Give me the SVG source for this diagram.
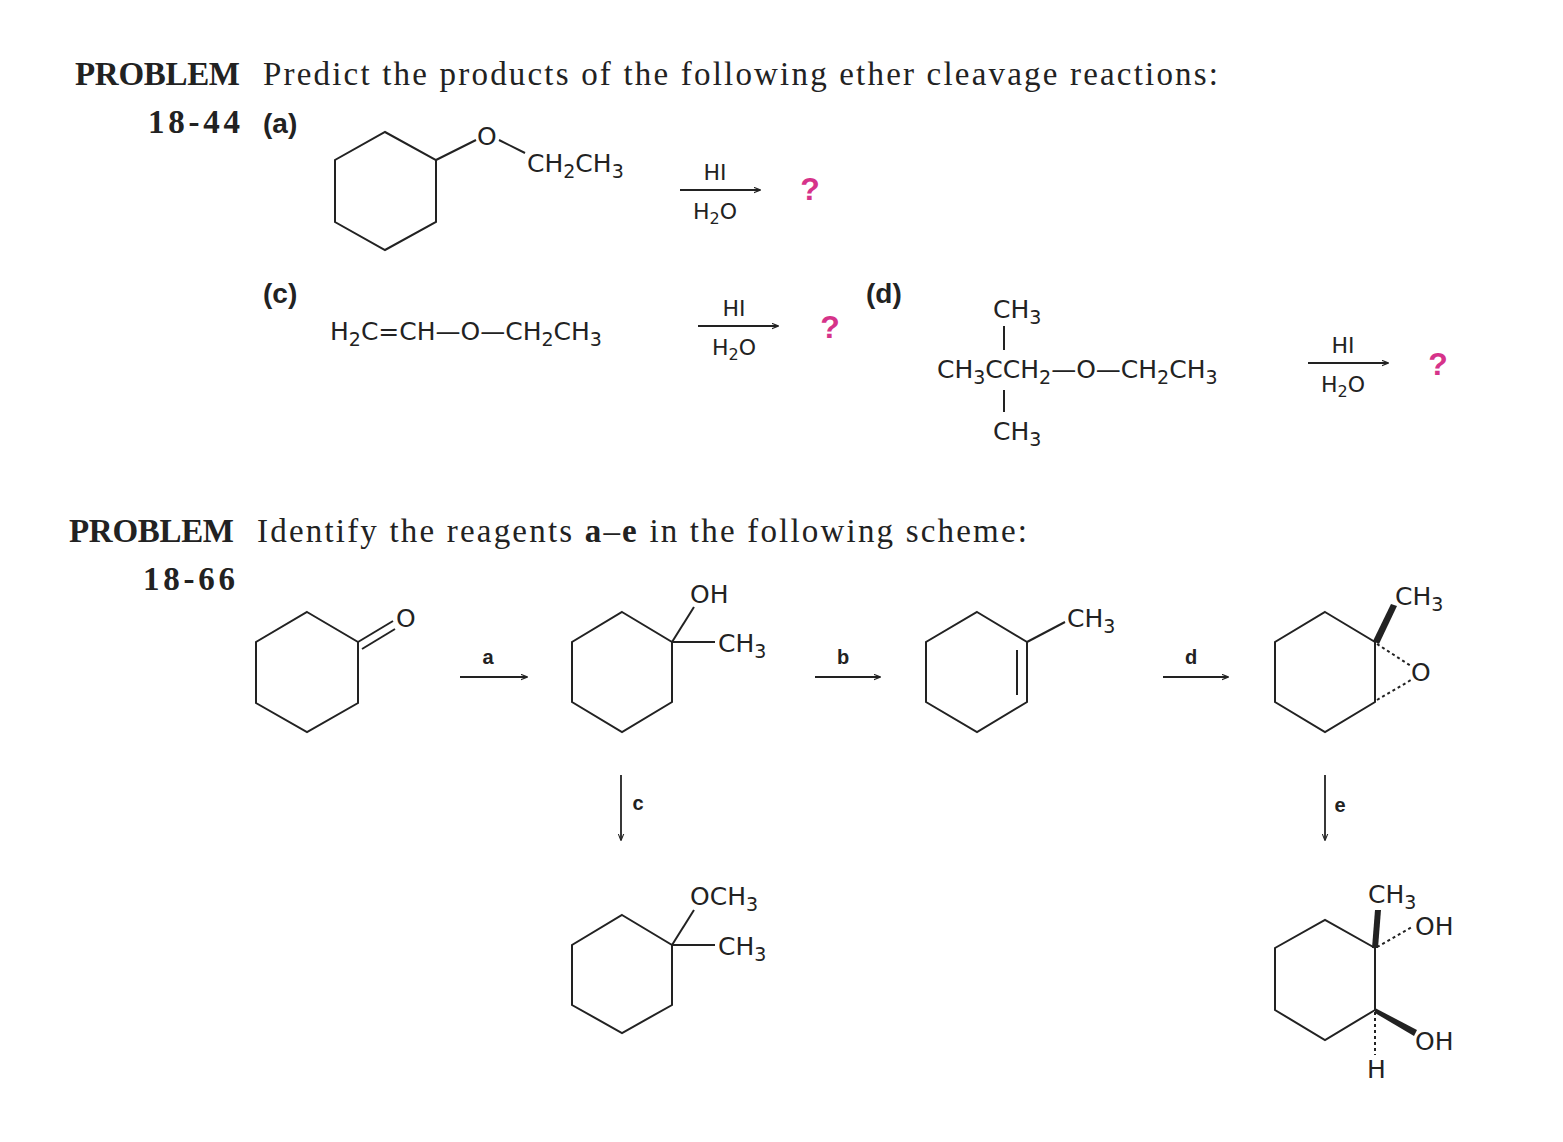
<svg xmlns="http://www.w3.org/2000/svg" width="1563" height="1142" viewBox="0 0 1563 1142">
<defs>
<marker id="ah" viewBox="0 0 10 10" refX="9" refY="5" markerWidth="7" markerHeight="7" orient="auto" markerUnits="userSpaceOnUse"><path d="M0,1 L10,5 L0,9" fill="none" stroke="#222" stroke-width="1.5"/></marker>
<style>
.hd{font-family:"Liberation Serif",serif;font-size:33px;fill:#222}
.b{font-weight:bold}
.lab{font-family:"Liberation Sans",sans-serif;font-size:28px;font-weight:bold;fill:#222}
.ch{font-family:"DejaVu Sans",sans-serif;font-size:25px;fill:#222}
.sm{font-family:"DejaVu Sans",sans-serif;font-size:22px;fill:#222}
.rl{font-family:"Liberation Sans",sans-serif;font-size:20px;font-weight:bold;fill:#222}
.q{font-family:"Liberation Sans",sans-serif;font-size:32px;font-weight:bold;fill:#d6338a}
.bd{stroke:#222;stroke-width:2;fill:none}
.ar{stroke:#222;stroke-width:1.8;fill:none;marker-end:url(#ah)}
.dash{stroke:#222;stroke-width:2;fill:none;stroke-dasharray:3,3}
</style>
</defs>
<rect width="1563" height="1142" fill="#fff"/>

<g id="header1">
<text x="75" y="85" class="hd b" textLength="165">PROBLEM</text>
<text x="263" y="85" class="hd" textLength="955">Predict the products of the following ether cleavage reactions:</text>
<text x="148" y="133" class="hd b" textLength="92">18-44</text>
<text x="263" y="133" class="lab">(a)</text>
</g>

<g id="mol-a">
<polygon class="bd" points="385,132 436,160 436,222 385,250 335,222 335,160"/>
<line class="bd" x1="436" y1="160" x2="476" y2="140"/>
<text x="477" y="145" class="ch">O</text>
<line class="bd" x1="499" y1="140" x2="525" y2="153"/>
<text x="527" y="172" class="ch">CH<tspan dy="6" font-size="19">2</tspan><tspan dy="-6">CH</tspan><tspan dy="6" font-size="19">3</tspan></text>
</g>

<g id="lab-c"><text x="263" y="303" class="lab">(c)</text></g>
<g id="mol-c"><text x="330" y="340" class="ch">H<tspan dy="6" font-size="19">2</tspan><tspan dy="-6">C=CH—O—CH</tspan><tspan dy="6" font-size="19">2</tspan><tspan dy="-6">CH</tspan><tspan dy="6" font-size="19">3</tspan></text></g>

<g id="lab-d"><text x="866" y="303" class="lab">(d)</text></g>
<g id="mol-d">
<text x="993" y="318" class="ch">CH<tspan dy="6" font-size="19">3</tspan></text>
<line class="bd" x1="1004" y1="326" x2="1004" y2="350"/>
<text x="937" y="378" class="ch">CH<tspan dy="6" font-size="19">3</tspan><tspan dy="-6">CCH</tspan><tspan dy="6" font-size="19">2</tspan><tspan dy="-6">—O—CH</tspan><tspan dy="6" font-size="19">2</tspan><tspan dy="-6">CH</tspan><tspan dy="6" font-size="19">3</tspan></text>
<line class="bd" x1="1004" y1="390" x2="1004" y2="412"/>
<text x="993" y="440" class="ch">CH<tspan dy="6" font-size="19">3</tspan></text>
</g>

<g id="header2">
<text x="69" y="542" class="hd b" textLength="165">PROBLEM</text>
<text x="257" y="542" class="hd" textLength="770">Identify the reagents <tspan font-weight="bold">a</tspan>–<tspan font-weight="bold">e</tspan> in the following scheme:</text>
<text x="143" y="590" class="hd b" textLength="92">18-66</text>
</g>

<g id="ketone">
<polygon class="bd" points="307,612 358,642 358,703 307,732 256,703 256,642"/>
<line class="bd" x1="358" y1="642" x2="393" y2="621"/>
<line class="bd" x1="362" y1="649" x2="395" y2="629"/>
<text x="396" y="627" class="ch">O</text>
</g>

<g id="alcohol">
<polygon class="bd" points="622,612 672,642 672,702 622,732 572,702 572,642"/>
<line class="bd" x1="672" y1="642" x2="694" y2="607"/>
<line class="bd" x1="672" y1="642" x2="715" y2="642"/>
<text x="690" y="603" class="ch">OH</text>
<text x="718" y="652" class="ch">CH<tspan dy="6" font-size="19">3</tspan></text>
</g>

<g id="alkene">
<polygon class="bd" points="977,612 1027,642 1027,702 977,732 926,702 926,642"/>
<line class="bd" x1="1017" y1="650" x2="1017" y2="695"/>
<line class="bd" x1="1027" y1="642" x2="1065" y2="622"/>
<text x="1067" y="627" class="ch">CH<tspan dy="6" font-size="19">3</tspan></text>
</g>

<g id="epoxide">
<polygon class="bd" points="1325,612 1375,642 1375,702 1325,732 1275,702 1275,642"/>
<polygon points="1373,641 1379,644 1397,606 1391,604" fill="#222"/>
<text x="1395" y="605" class="ch">CH<tspan dy="6" font-size="19">3</tspan></text>
<line class="dash" x1="1377" y1="644" x2="1411" y2="666"/>
<line class="dash" x1="1377" y1="700" x2="1411" y2="680"/>
<text x="1411" y="681" class="ch">O</text>
</g>

<g id="methoxy">
<polygon class="bd" points="622,915 672,945 672,1005 622,1033 572,1005 572,945"/>
<line class="bd" x1="672" y1="945" x2="694" y2="910"/>
<line class="bd" x1="672" y1="945" x2="715" y2="945"/>
<text x="690" y="905" class="ch">OCH<tspan dy="6" font-size="19">3</tspan></text>
<text x="718" y="955" class="ch">CH<tspan dy="6" font-size="19">3</tspan></text>
</g>

<g id="diol">
<polygon class="bd" points="1275,948 1325,920 1375,948 1375,1010 1325,1040 1275,1010"/>
<polygon points="1372,948 1378,948 1381,910 1375,910" fill="#222"/>
<text x="1368" y="903" class="ch">CH<tspan dy="6" font-size="19">3</tspan></text>
<line class="dash" x1="1377" y1="947" x2="1412" y2="927"/>
<text x="1415" y="935" class="ch">OH</text>
<polygon points="1375,1008 1375,1013 1414,1036 1417,1030" fill="#222"/>
<text x="1415" y="1050" class="ch">OH</text>
<line class="dash" x1="1375" y1="1012" x2="1375" y2="1055"/>
<text x="1367" y="1078" class="ch">H</text>
</g>

<g id="connectors">
<line class="ar" x1="680" y1="190" x2="760" y2="190"/>
<text x="715" y="180" class="sm" text-anchor="middle">HI</text>
<text x="715" y="219" class="sm" text-anchor="middle">H<tspan dy="5" font-size="16">2</tspan><tspan dy="-5">O</tspan></text>
<text x="810" y="200" class="q" text-anchor="middle">?</text>

<line class="ar" x1="698" y1="326" x2="778" y2="326"/>
<text x="734" y="316" class="sm" text-anchor="middle">HI</text>
<text x="734" y="355" class="sm" text-anchor="middle">H<tspan dy="5" font-size="16">2</tspan><tspan dy="-5">O</tspan></text>
<text x="830" y="338" class="q" text-anchor="middle">?</text>

<line class="ar" x1="1308" y1="363" x2="1388" y2="363"/>
<text x="1343" y="353" class="sm" text-anchor="middle">HI</text>
<text x="1343" y="392" class="sm" text-anchor="middle">H<tspan dy="5" font-size="16">2</tspan><tspan dy="-5">O</tspan></text>
<text x="1438" y="375" class="q" text-anchor="middle">?</text>

<line class="ar" x1="460" y1="677" x2="527" y2="677"/>
<text x="488" y="664" class="rl" text-anchor="middle">a</text>
<line class="ar" x1="815" y1="677" x2="880" y2="677"/>
<text x="843" y="664" class="rl" text-anchor="middle">b</text>
<line class="ar" x1="1163" y1="677" x2="1228" y2="677"/>
<text x="1191" y="664" class="rl" text-anchor="middle">d</text>
<line class="ar" x1="621" y1="775" x2="621" y2="840"/>
<text x="638" y="810" class="rl" text-anchor="middle">c</text>
<line class="ar" x1="1325" y1="775" x2="1325" y2="840"/>
<text x="1340" y="812" class="rl" text-anchor="middle">e</text>
</g>
</svg>
